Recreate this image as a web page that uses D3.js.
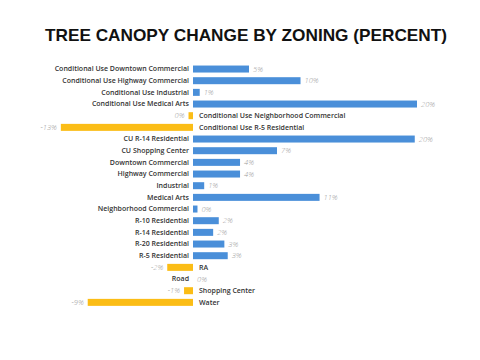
<!DOCTYPE html>
<html lang="en">
<head>
    <meta charset="utf-8" />
    <title>Tree Canopy Change by Zoning</title>
    <script src="https://d3js.org/d3.v7.min.js"></script>
    <style>
        body {
            margin: 0;
            padding: 0;
            background: #ffffff;
        }
    </style>
</head>
<body>
<svg id="chart"></svg>
<script>
    var w = 480;
    var h = 360;

    // Zoning categories, top to bottom
    var categories = [
        "Conditional Use Downtown Commercial",
        "Conditional Use Highway Commercial",
        "Conditional Use Industrial",
        "Conditional Use Medical Arts",
        "Conditional Use Neighborhood Commercial",
        "Conditional Use R-5 Residential",
        "CU R-14 Residential",
        "CU Shopping Center",
        "Downtown Commercial",
        "Highway Commercial",
        "Industrial",
        "Medical Arts",
        "Neighborhood Commercial",
        "R-10 Residential",
        "R-14 Residential",
        "R-20 Residential",
        "R-5 Residential",
        "RA",
        "Road",
        "Shopping Center",
        "Water"
    ];
    // Change in canopy (percent)
    var values = [5.0, 9.6, 0.6, 20.0, -0.4, -11.8, 19.8, 7.5, 4.2, 4.2, 1.0, 11.3,
                  0.4, 2.3, 1.8, 2.8, 3.1, -2.3, 0, -0.8, -9.4];
    // Printed labels
    var valueLabels = ["5%", "10%", "1%", "20%", "0%", "-13%", "20%", "7%", "4%", "4%", "1%", "11%",
                       "0%", "2%", "2%", "3%", "3%", "-2%", "0%", "-1%", "-9%"];

    var rows = categories.map(function(c, i) {
        return {name: c, value: values[i], label: valueLabels[i]};
    });

    var svg = d3.select("#chart")
                .attr("width", w)
                .attr("height", h);

    // Title
    svg.append("text")
        .attr("x", 246)
        .attr("y", 41)
        .attr("text-anchor", "middle")
        .attr("font-family", "'Liberation Sans', Arial, sans-serif")
        .attr("font-weight", "bold")
        .attr("font-size", "17px")
        .attr("textLength", 402)
        .attr("lengthAdjust", "spacingAndGlyphs")
        .attr("fill", "#111")
        .text("TREE CANOPY CHANGE BY ZONING (PERCENT)");

    var xScale = d3.scaleLinear()
                .domain([0, 20])
                .range([193, 417]);

    var yScale = d3.scaleBand()
                .domain(categories)
                .range([63.2, 308.2])
                .paddingInner(0.4)
                .paddingOuter(0.2);

    var bw = yScale.bandwidth();

    // Bars
    svg.selectAll("rect.bar")
        .data(rows)
        .enter().append("rect")
        .attr("class", "bar")
        .attr("x", function(d) { return xScale(Math.min(0, d.value)); })
        .attr("y", function(d) { return yScale(d.name); })
        .attr("width", function(d) { return Math.abs(xScale(d.value) - xScale(0)); })
        .attr("height", bw)
        .attr("fill", function(d) { return d.value < 0 ? "#fbbd16" : "#4a8fd9"; });

    // Category labels: left of axis for positives, right for negatives
    svg.selectAll("text.cat")
        .data(rows)
        .enter().append("text")
        .attr("class", "cat")
        .attr("x", function(d) { return d.value < 0 ? xScale(0) + 6 : xScale(0) - 4; })
        .attr("y", function(d) { return yScale(d.name) + bw / 2; })
        .attr("dy", "0.35em")
        .attr("text-anchor", function(d) { return d.value < 0 ? "start" : "end"; })
        .attr("font-family", "'Open Sans', sans-serif")
        .attr("font-weight", "600")
        .attr("font-size", "7px")
        .attr("fill", "#333")
        .text(function(d) { return d.name; });

    // Value labels at bar ends
    svg.selectAll("text.val")
        .data(rows)
        .enter().append("text")
        .attr("class", "val")
        .attr("x", function(d) { return d.value < 0 ? xScale(d.value) - 4 : xScale(d.value) + 4; })
        .attr("y", function(d) { return yScale(d.name) + bw / 2; })
        .attr("dy", "0.35em")
        .attr("text-anchor", function(d) { return d.value < 0 ? "end" : "start"; })
        .attr("font-family", "'Open Sans', sans-serif")
        .attr("font-weight", "300")
        .attr("font-style", "italic")
        .attr("font-size", "7.5px")
        .attr("fill", "#9a9a9a")
        .text(function(d) { return d.label; });
</script>
</body>
</html>
